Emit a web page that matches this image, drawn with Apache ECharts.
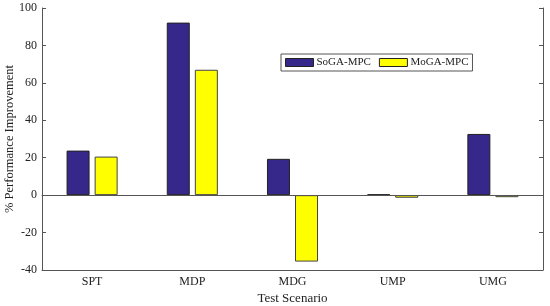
<!DOCTYPE html>
<html><head><meta charset="utf-8">
<script src="https://cdn.jsdelivr.net/npm/echarts@6/dist/echarts.min.js"></script>
<style>html,body{margin:0;padding:0;background:#fff}#c{width:550px;height:306px}</style>
</head><body><div id="c"></div>
<script>
const categories = ['SPT', 'MDP', 'MDG', 'UMP', 'UMG'];
const sogaMpc = [23.8, 92.2, 19.4, 0.4, 32.7];
const mogaMpc = [20.6, 67.0, -35.5, -1.4, -1.1];
const yTicks = {min: -40, max: 100, interval: 20};

const font = 'Liberation Serif';
const axisColor = '#555';
const chart = echarts.init(document.getElementById('c'));
chart.setOption({
  animation: false,
  textStyle: {fontFamily: font},
  grid: {left: 42, right: 7, top: 8, bottom: 36, show: false, containLabel: false, outerBoundsMode: 'none'},
  legend: {
    left: 281, top: 54, padding: [3, 4, 3, 4], itemGap: 8,
    itemWidth: 28, itemHeight: 8, icon: 'rect',
    borderColor: '#555', borderWidth: 1,
    itemStyle: {borderColor: '#222', borderWidth: 1},
    textStyle: {fontFamily: font, fontSize: 11, color: '#222', padding: [0,0,0,-2]},
    data: ['SoGA-MPC', 'MoGA-MPC']
  },
  xAxis: [{
    type: 'category', data: categories, position: 'bottom',
    axisLine: {onZero: false, lineStyle: {color: axisColor}},
    axisTick: {inside: true, alignWithLabel: true, length: 4, lineStyle: {color: axisColor}},
    axisLabel: {fontFamily: font, fontSize: 12, color: '#222', margin: 6},
    name: 'Test Scenario', nameLocation: 'middle', nameGap: 22, nameMoveOverlap: false,
    nameTextStyle: {fontFamily: font, fontSize: 13, color: '#222'}
  }, {
    type: 'category', data: categories, position: 'top',
    axisLine: {lineStyle: {color: axisColor}},
    axisTick: {inside: true, alignWithLabel: true, length: 4, lineStyle: {color: axisColor}},
    axisLabel: {show: false}
  }],
  yAxis: [{
    type: 'value', min: yTicks.min, max: yTicks.max, interval: yTicks.interval,
    axisLine: {show: true, lineStyle: {color: axisColor}},
    axisTick: {show: true, inside: true, length: 4, lineStyle: {color: axisColor}},
    splitLine: {show: false},
    axisLabel: {fontFamily: font, fontSize: 12, color: '#222', margin: 5},
    name: '% Performance Improvement', nameLocation: 'middle', nameGap: 26, nameMoveOverlap: false,
    nameTextStyle: {fontFamily: font, fontSize: 12.5, color: '#222'}
  }, {
    type: 'value', min: yTicks.min, max: yTicks.max, interval: yTicks.interval, position: 'right',
    axisLine: {show: true, lineStyle: {color: axisColor}},
    axisTick: {show: true, inside: true, length: 4, lineStyle: {color: axisColor}},
    splitLine: {show: false}, axisLabel: {show: false}
  }],
  series: [{
    name: 'SoGA-MPC', type: 'bar', data: sogaMpc, barWidth: 23, barGap: '22%',
    itemStyle: {color: '#36288a', borderColor: '#222', borderWidth: 1},
    markLine: {silent: true, symbol: 'none', label: {show: false},
      lineStyle: {color: '#555', type: 'solid', width: 1}, data: [{yAxis: 0}]}
  }, {
    name: 'MoGA-MPC', type: 'bar', data: mogaMpc, barWidth: 23, barGap: '22%',
    itemStyle: {color: '#ffff00', borderColor: '#444', borderWidth: 1}
  }]
});
</script></body></html>
